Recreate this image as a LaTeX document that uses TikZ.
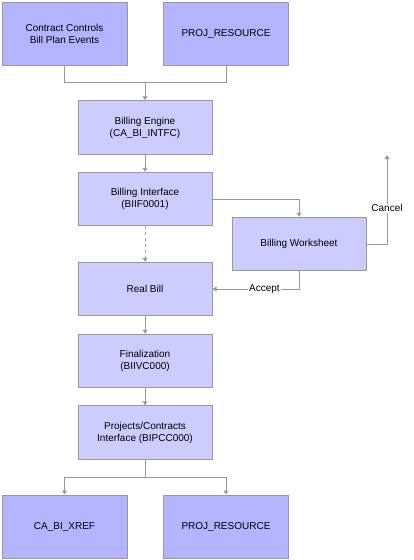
\documentclass[tikz,border=0pt]{standalone}
\usepackage{fontspec}
\setmainfont{Liberation Sans}
\usetikzlibrary{arrows.meta}
\definecolor{darkbox}{HTML}{B3B3FF}
\definecolor{lightbox}{HTML}{CCCCFF}
\definecolor{edge}{HTML}{999999}
\begin{document}
\begin{tikzpicture}[x=1pt,y=-1pt,
  basebox/.style={draw=edge,line width=1pt,align=center,font=\fontsize{10}{12}\selectfont,inner sep=0pt},
  bigbox/.style={basebox,fill=darkbox,minimum width=125pt,minimum height=63pt},
  midbox/.style={basebox,fill=lightbox,minimum width=134pt,minimum height=53.5pt},
  conn/.style={draw=edge,line width=1pt},
  arr/.style={conn,-{Triangle[width=5pt,length=4pt]}},
  lbl/.style={font=\fontsize{10}{12}\selectfont,fill=white,inner sep=1pt}]
\useasboundingbox (0,0) rectangle (414,560);
\node[bigbox] (tl) at (64.5,33.5) {Contract Controls\\Bill Plan Events};
\node[bigbox] (tr) at (226,33.5) {PROJ\_RESOURCE};
\node[midbox] (be) at (145,127.5) {Billing Engine\\(CA\_BI\_INTFC)};
\node[midbox] (bi) at (145,199) {Billing Interface\\(BIIF0001)};
\node[midbox] (bw) at (299,244) {Billing Worksheet};
\node[midbox] (rb) at (145,289) {Real Bill};
\node[midbox] (fi) at (145,361) {Finalization\\(BIIVC000)};
\node[midbox] (pc) at (145,432.5) {Projects/Contracts\\Interface (BIPCC000)};
\node[bigbox] (bl) at (64.5,526.5) {CA\_BI\_XREF};
\node[bigbox] (br) at (226,526.5) {PROJ\_RESOURCE};
\coordinate (m) at (145,82);
\coordinate (s) at (145,477);
\coordinate (cend) at (387,155);
\draw[conn] (tl.south) |- (m);
\draw[conn] (tr.south) |- (m);
\draw[arr] (m) -- (be.north);
\draw[arr] (be.south) -- (bi.north);
\draw[arr] (bi.east) -| (bw.north);
\draw[arr,dashed,dash pattern=on 3pt off 3pt] (bi.south) -- (rb.north);
\draw[arr] (bw.east) -| (cend) node[lbl,pos=0.7] {Cancel};
\draw[arr] (bw.south) |- (rb.east) node[lbl,pos=0.7] {Accept};
\draw[arr] (rb.south) -- (fi.north);
\draw[arr] (fi.south) -- (pc.north);
\draw[conn] (pc.south) -- (s);
\draw[arr] (s) -| (bl.north);
\draw[arr] (s) -| (br.north);
\end{tikzpicture}
\end{document}
